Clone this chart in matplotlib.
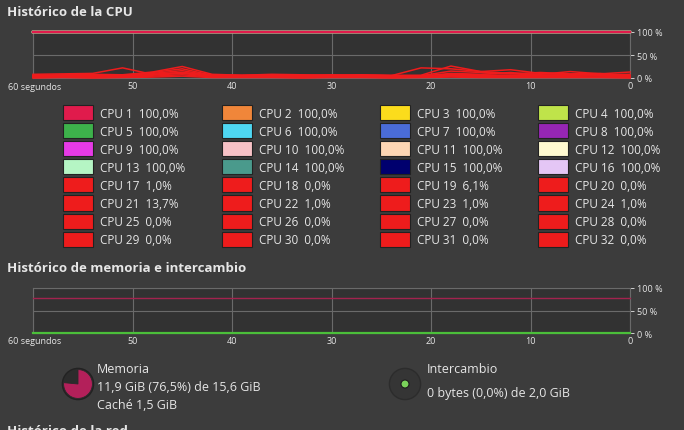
import matplotlib
matplotlib.use("Agg")
import matplotlib.pyplot as plt
from matplotlib.patches import Rectangle, Circle, Wedge
import numpy as np

W, H = 684, 431
BG = "#3c3c3c"
FG = "#e6e6e6"
plt.rcParams['font.family'] = ['Open Sans', 'DejaVu Sans']

cpu_labels = [f"CPU {i}" for i in range(1, 33)]
cpu_values = ["100,0%"] * 16 + ["1,0%", "0,0%", "6,1%", "0,0%", "13,7%", "1,0%", "1,0%", "1,0%",
                                 "0,0%", "0,0%", "0,0%", "0,0%", "0,0%", "0,0%", "0,0%", "0,0%"]
cpu_colors = ["#e01b4c", "#f0863a", "#fbdc1c", "#bfe34a", "#3db24b", "#4ed6f2", "#4a6cd8", "#9626b4",
              "#e63ae6", "#f7c1c6", "#fdd6b4", "#fffad0", "#b5f5c4", "#4a9a8c", "#00006e", "#e4c6f5"] + ["#ee1c1c"] * 16

# seconds ago (every 3 s), usage % of the low CPUs
t = [60, 57, 54, 51, 48, 45, 42, 39, 36, 33, 30, 27, 24, 21, 18, 15, 12, 9, 6, 3, 0]
low_series = [
    [8, 9, 10, 22, 8, 12, 7, 6, 8, 7, 6, 7, 6, 5, 8, 7, 6, 9, 8, 7, 8],
    [6, 7, 8, 7, 13, 25, 8, 6, 7, 6, 7, 6, 5, 22, 20, 14, 10, 8, 14, 9, 13],
    [5, 6, 6, 5, 12, 20, 6, 5, 6, 5, 5, 6, 5, 6, 26, 14, 18, 10, 8, 7, 6],
    [4, 5, 4, 5, 10, 16, 5, 4, 5, 4, 5, 4, 4, 5, 15, 12, 9, 12, 9, 10, 5],
    [3, 4, 3, 4, 8, 12, 4, 4, 4, 3, 4, 4, 3, 4, 10, 8, 12, 6, 7, 6, 4],
    [2, 3, 2, 3, 6, 10, 3, 3, 3, 2, 3, 3, 2, 3, 6, 5, 5, 5, 5, 4, 3],
    [1, 2, 1, 2, 4, 7, 2, 2, 2, 1, 2, 2, 1, 2, 4, 3, 3, 3, 3, 2, 1],
    [0, 1, 0, 1, 2, 4, 1, 1, 1, 0, 1, 1, 0, 1, 2, 1, 1, 1, 1, 1, 0],
]
mem_pct = [77.5] * 21
swap_pct = [0.0] * 21

fig = plt.figure(figsize=(W / 100, H / 100), dpi=100, facecolor=BG)

def px(x, y, w, h):
    return [x / W, 1 - (y + h) / H, w / W, h / H]

def ftext(x, y, s, **kw):
    fig.text(x / W, 1 - y / H, s, color=FG, **kw)

def graph(y0, h, series, colors, lw):
    ax = fig.add_axes(px(33, y0, 597, h))
    ax.set_facecolor("#323232")
    for s, c, w in zip(series, colors, lw):
        ax.plot(t, s, color=c, lw=w, clip_on=False, zorder=5)
    ax.set_xlim(60, 0)
    ax.set_ylim(0, 100)
    ax.set_xticks([60, 50, 40, 30, 20, 10, 0])
    ax.set_xticklabels(["", "50", "40", "30", "20", "10", "0"])
    ax.set_yticks([0, 50, 100])
    ax.set_yticklabels(["0 %", "50 %", "100 %"])
    ax.yaxis.tick_right()
    ax.grid(True, color="#6a6a6a", lw=0.8)
    ax.tick_params(colors=FG, labelsize=6.5, length=3, width=0.6, pad=2)
    ax.tick_params(axis="x", length=0)
    for sp in ax.spines.values():
        sp.set_color("#6a6a6a"); sp.set_linewidth(0.8)
    ftext(8, y0 + h + 8, "60 segundos", fontsize=6.5, va="center")
    return ax

ftext(7, 12, "Histórico de la CPU", fontsize=9.5, fontweight="bold", va="center")
high = [[100] * 21 for _ in range(16)]
graph(33, 46, low_series + high[::-1], ["#ee1c1c"] * 8 + cpu_colors[:16][::-1], [1.1] * 8 + [1.6] * 16)

col_x = [63, 222, 380, 538]
for i, (lab, val, c) in enumerate(zip(cpu_labels, cpu_values, cpu_colors)):
    r, cc = divmod(i, 4)
    x, y = col_x[cc], 106 + r * 18.1
    fig.patches.append(Rectangle((x / W, 1 - (y + 15) / H), 30 / W, 15 / H, transform=fig.transFigure,
                                 facecolor=c, edgecolor="#222222", lw=0.8))
    ftext(x + 37, y + 8, f"{lab}  {val}", fontsize=8.5, va="center")

ftext(7, 268, "Histórico de memoria e intercambio", fontsize=9.5, fontweight="bold", va="center")
graph(289, 45, [mem_pct, swap_pct], ["#a3234f", "#4bbf3a"], [1.0, 1.6])

# memory pie icon
iax = fig.add_axes(px(58, 365, 40, 40)); iax.set_xlim(-1, 1); iax.set_ylim(-1, 1); iax.axis("off")
iax.add_patch(Circle((0, 0), 0.78, facecolor="#2c2c2c", edgecolor="#222222"))
iax.add_patch(Wedge((0, 0), 0.72, 90 - 360 * 0.765, 90, facecolor="#b3205a", edgecolor="#2a2a2a", lw=0.6))
ftext(97, 370, "Memoria", fontsize=9, va="center")
ftext(97, 388, "11,9 GiB (76,5%) de 15,6 GiB", fontsize=9, va="center")
ftext(97, 406, "Caché 1,5 GiB", fontsize=9, va="center")

sax = fig.add_axes(px(385, 365, 40, 40)); sax.set_xlim(-1, 1); sax.set_ylim(-1, 1); sax.axis("off")
sax.add_patch(Circle((0, 0), 0.78, facecolor="#353535", edgecolor="#2c2c2c"))
sax.add_patch(Circle((0, 0), 0.2, facecolor="#7ad35a", edgecolor="#1e1e1e", lw=0.8))
ftext(427, 370, "Intercambio", fontsize=9, va="center")
ftext(427, 394, "0 bytes (0,0%) de 2,0 GiB", fontsize=9, va="center")

ftext(7, 432, "Histórico de la red", fontsize=9.5, fontweight="bold", va="center")

fig.savefig("out.png", dpi=100, facecolor=BG)
